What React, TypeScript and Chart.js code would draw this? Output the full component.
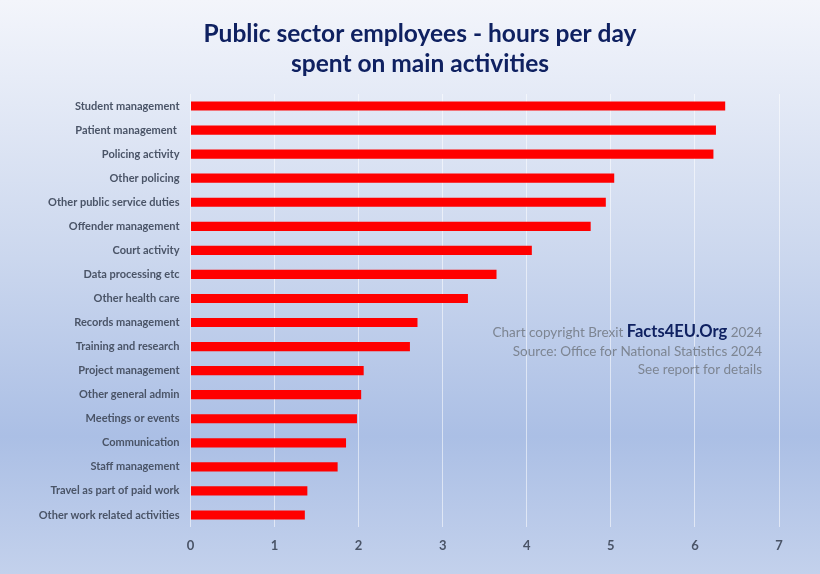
import React, { useEffect, useRef } from "react";
import { Chart, registerables } from "chart.js";

Chart.register(...registerables);

const categories = [
  "Student management",
  "Patient management ",
  "Policing activity",
  "Other policing",
  "Other public service duties",
  "Offender management",
  "Court activity",
  "Data processing etc",
  "Other health care",
  "Records management",
  "Training and research",
  "Project management",
  "Other general admin",
  "Meetings or events",
  "Communication",
  "Staff management",
  "Travel as part of paid work",
  "Other work related activities",
];

const hoursPerDay = [
  6.36, 6.25, 6.22, 5.04, 4.94, 4.76, 4.06, 3.64, 3.3, 2.7, 2.61, 2.06, 2.03,
  1.98, 1.85, 1.75, 1.39, 1.36,
];

const titleLines = ["Public sector employees - hours per day", "spent on main activities"];
const sourceLines = [
  "Source: Office for National Statistics 2024",
  "See report for details",
];

const FONT = "Lato, 'Open Sans', sans-serif";
const LABEL_COLOR = "#4a5467";
const NAVY = "#0f2161";

// background gradient, title and source notes
const decorPlugin = {
  id: "decor",
  beforeDraw(chart: Chart) {
    const { ctx, width, height } = chart;
    ctx.save();
    const g = ctx.createLinearGradient(0, 0, 0, height);
    g.addColorStop(0, "#f3f5fb");
    g.addColorStop(0.45, "#cbd7ee");
    g.addColorStop(0.76, "#abbfe5");
    g.addColorStop(1, "#c3d1ec");
    ctx.fillStyle = g;
    ctx.fillRect(0, 0, width, height);
    ctx.restore();
  },
  afterDraw(chart: Chart) {
    const { ctx } = chart;
    ctx.save();
    ctx.fillStyle = NAVY;
    ctx.textAlign = "center";
    ctx.textBaseline = "middle";
    ctx.font = `bold 24.5px ${FONT}`;
    ctx.fillText(titleLines[0], 420, 34);
    ctx.fillText(titleLines[1], 420, 64);

    // copyright line: gray text with a bold brand name
    const right = 762;
    ctx.textAlign = "right";
    ctx.textBaseline = "alphabetic";
    const grayFont = `13.5px ${FONT}`;
    const brandFont = `bold 16.5px ${FONT}`;
    ctx.font = grayFont;
    ctx.fillStyle = "#7d8592";
    const tail = " 2024";
    ctx.fillText(tail, right, 337);
    const tailW = ctx.measureText(tail).width;
    ctx.font = brandFont;
    ctx.fillStyle = NAVY;
    const brand = "Facts4EU.Org";
    ctx.fillText(brand, right - tailW, 337);
    const brandW = ctx.measureText(brand).width;
    ctx.font = grayFont;
    ctx.fillStyle = "#7d8592";
    ctx.fillText("Chart copyright Brexit ", right - tailW - brandW, 337);
    ctx.fillText(sourceLines[0], right, 356);
    ctx.fillText(sourceLines[1], right, 374);
    ctx.restore();
  },
};

export default function App() {
  const ref = useRef<HTMLCanvasElement>(null);

  useEffect(() => {
    document.body.style.margin = "0";
    const chart = new Chart(ref.current!, {
      type: "bar",
      data: {
        labels: categories,
        datasets: [
          {
            data: hoursPerDay,
            backgroundColor: "#ff0000",
            barPercentage: 0.38,
            categoryPercentage: 1,
          },
        ],
      },
      options: {
        indexAxis: "y",
        animation: false,
        responsive: false,
        layout: { padding: { top: 94, right: 41, bottom: 0, left: 0 } },
        plugins: {
          legend: { display: false },
          tooltip: { enabled: false },
        },
        scales: {
          x: {
            min: 0,
            max: 7,
            ticks: {
              stepSize: 1,
              color: LABEL_COLOR,
              font: { family: FONT, size: 13, weight: "bold" },
              padding: 11,
            },
            grid: { color: "rgba(255,255,255,0.55)", drawTicks: false },
            border: { display: false },
            afterFit: (s: any) => {
              s.height = 47;
            },
          },
          y: {
            ticks: {
              color: LABEL_COLOR,
              font: { family: FONT, size: 11, weight: "bold" },
              padding: 11,
              autoSkip: false,
            },
            grid: { display: false, drawTicks: false },
            border: { display: false },
            afterFit: (s: any) => {
              s.width = 190.5;
            },
          },
        },
      },
      plugins: [decorPlugin],
    });
    return () => chart.destroy();
  }, []);

  return <canvas ref={ref} width={820} height={574} style={{ display: "block" }} />;
}
